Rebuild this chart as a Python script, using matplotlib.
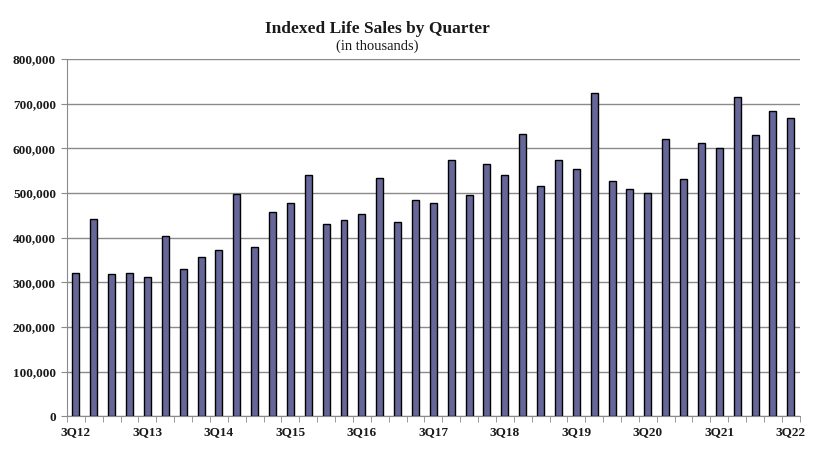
import matplotlib
matplotlib.use("Agg")
import matplotlib.pyplot as plt
from matplotlib.ticker import FuncFormatter, FixedLocator

quarters = [f"{q}Q{y:02d}" for y in range(12, 23) for q in (1, 2, 3, 4)][2:43]
sales = [322, 441, 318, 320, 313, 403, 329, 356, 372, 497,
         378, 457, 477, 540, 431, 439, 452, 533, 434, 484,
         477, 573, 495, 564, 540, 631, 515, 575, 553, 723,
         526, 508, 501, 620, 531, 613, 600, 716, 629, 683, 669]
sales = [v * 1000 for v in sales]
label_every = 4

plt.rcParams['font.family'] = ['Liberation Serif', 'DejaVu Serif']

fig = plt.figure(figsize=(8.27, 4.54), dpi=100)
ax = fig.add_axes([0.081, 0.083, 0.886, 0.787])

x = list(range(len(quarters)))
ax.bar(x, sales, width=0.39, color='#666699', edgecolor='black', linewidth=1.0, zorder=3)

ax.set_xlim(-0.5, len(quarters) - 0.5)
ax.set_ylim(0, 800000)
ax.set_yticks(range(0, 800001, 100000))
ax.yaxis.set_major_formatter(FuncFormatter(lambda v, p: f"{int(v):,}"))
ax.grid(axis='y', color='#8a8a8a', linewidth=1.0, zorder=0)

ax.set_xticks(x[::label_every])
ax.set_xticklabels(quarters[::label_every])
ax.xaxis.set_minor_locator(FixedLocator([i - 0.5 for i in range(len(quarters) + 1)]))
ax.tick_params(axis='x', which='major', length=0, pad=7)
ax.tick_params(axis='x', which='minor', length=4, color='#8a8a8a', direction='out')
ax.tick_params(axis='y', length=4, color='#8a8a8a', direction='out', pad=4)

for lbl in ax.get_xticklabels() + ax.get_yticklabels():
    lbl.set_fontweight('bold')
    lbl.set_fontsize(9.5)
    lbl.set_color('#1a1a1a')

for s in ('top', 'right'):
    ax.spines[s].set_visible(False)
ax.spines['left'].set_color('#8a8a8a')
ax.spines['bottom'].set_color('#8a8a8a')

fig.text(0.456, 0.936, "Indexed Life Sales by Quarter", ha='center', va='center',
         fontsize=12.5, fontweight='bold', color='#1a1a1a')
fig.text(0.456, 0.899, "(in thousands)", ha='center', va='center',
         fontsize=10.5, color='#1a1a1a')

fig.savefig("out.png", dpi=100)
